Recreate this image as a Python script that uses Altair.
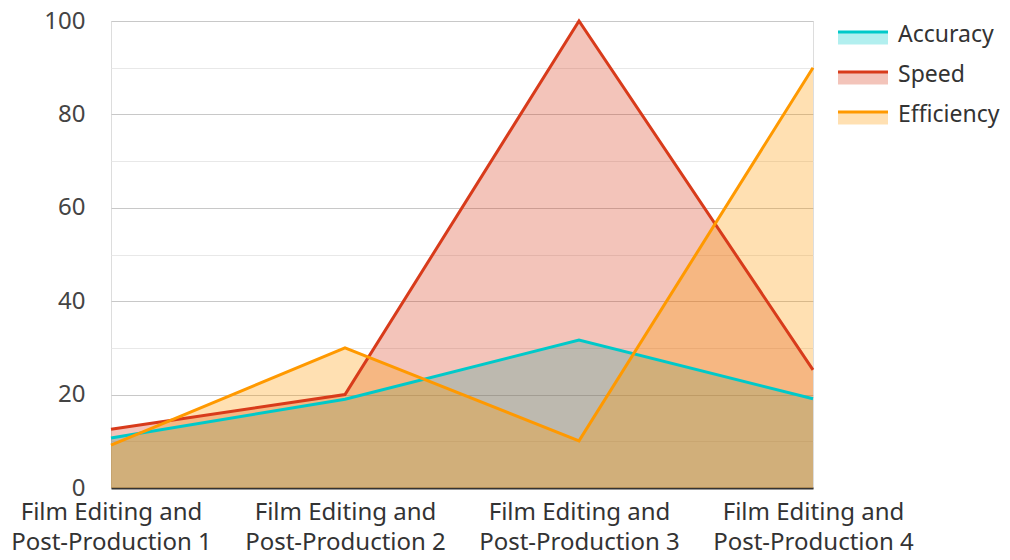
import altair as alt
import pandas as pd

categories = [
    "Film Editing and Post-Production 1",
    "Film Editing and Post-Production 2",
    "Film Editing and Post-Production 3",
    "Film Editing and Post-Production 4",
]
series = ["Accuracy", "Speed", "Efficiency"]
accuracy = [10.7, 19.0, 31.7, 19.1]
speed = [12.6, 20.0, 100.0, 25.3]
efficiency = [9.2, 30.0, 10.1, 90.0]
colors = ["#00C9C9", "#D83B1B", "#FF9900"]

rows = []
for name, vals in zip(series, [accuracy, speed, efficiency]):
    for c, v in zip(categories, vals):
        rows.append({"category": c, "series": name, "value": v})
df = pd.DataFrame(rows)
legend_df = pd.DataFrame({"series": series})

FONT = "Noto Sans"
FS = 24
color = alt.Color("series:N", scale=alt.Scale(domain=series, range=colors), legend=None)

x = alt.X(
    "category:N",
    sort=categories,
    scale=alt.Scale(type="point", padding=0),
    axis=alt.Axis(
        title=None, labelAngle=0, labelFontSize=FS, labelColor="#333333", labelFont=FONT,
        labelLineHeight=30, labelPadding=12, labelLimit=0, ticks=False, grid=False,
        domainColor="#333333", domainWidth=2,
        labelExpr="[substring(datum.label,0,16), substring(datum.label,17)]",
    ),
)
y = alt.Y(
    "value:Q",
    stack=None,
    scale=alt.Scale(domain=[0, 100], nice=False),
    axis=alt.Axis(
        title=None, values=list(range(0, 101, 10)), labelFontSize=FS, labelColor="#444444",
        labelFont=FONT, labelPadding=26, ticks=False, domain=False,
        labelExpr="datum.value % 20 === 0 ? datum.label : ''",
        gridColor={"condition": {"test": "datum.value % 20 === 0", "value": "#c8c8c8"}, "value": "#e8e8e8"},
        gridWidth=1.2,
    ),
)

base = alt.Chart(df)
areas = base.mark_area(fillOpacity=0.3, interpolate="linear").encode(x=x, y=y, color=color)
lines = base.mark_line(strokeWidth=3).encode(x=x, y=y, color=color)
main = alt.layer(areas, lines)

ly = alt.Y("series:N", sort=series, scale=alt.Scale(type="point", padding=0, domain=series, range=[11, 91]), axis=None)
leg = alt.Chart(legend_df)
leg_fill = leg.mark_rule(strokeWidth=13, opacity=0.3, yOffset=6).encode(
    x=alt.value(727), x2=alt.value(777), y=ly, color=color)
leg_line = leg.mark_rule(strokeWidth=3).encode(
    x=alt.value(727), x2=alt.value(777), y=ly, color=color)
leg_text = leg.mark_text(align="left", baseline="alphabetic", dy=10, fontSize=23, font=FONT, color="#333333").encode(
    x=alt.value(787), y=ly, text="series:N")
legend = alt.layer(leg_fill, leg_line, leg_text)

chart = alt.layer(main, legend).resolve_scale(y="independent").properties(
    width=702, height=467,
    autosize=alt.AutoSizeParams(type="none"),
    padding={"left": 103, "top": 13, "right": 189, "bottom": 64},
).configure_view(strokeWidth=0).configure(font=FONT)

chart.save("out.html", embed_options={"renderer": "svg", "actions": False})
